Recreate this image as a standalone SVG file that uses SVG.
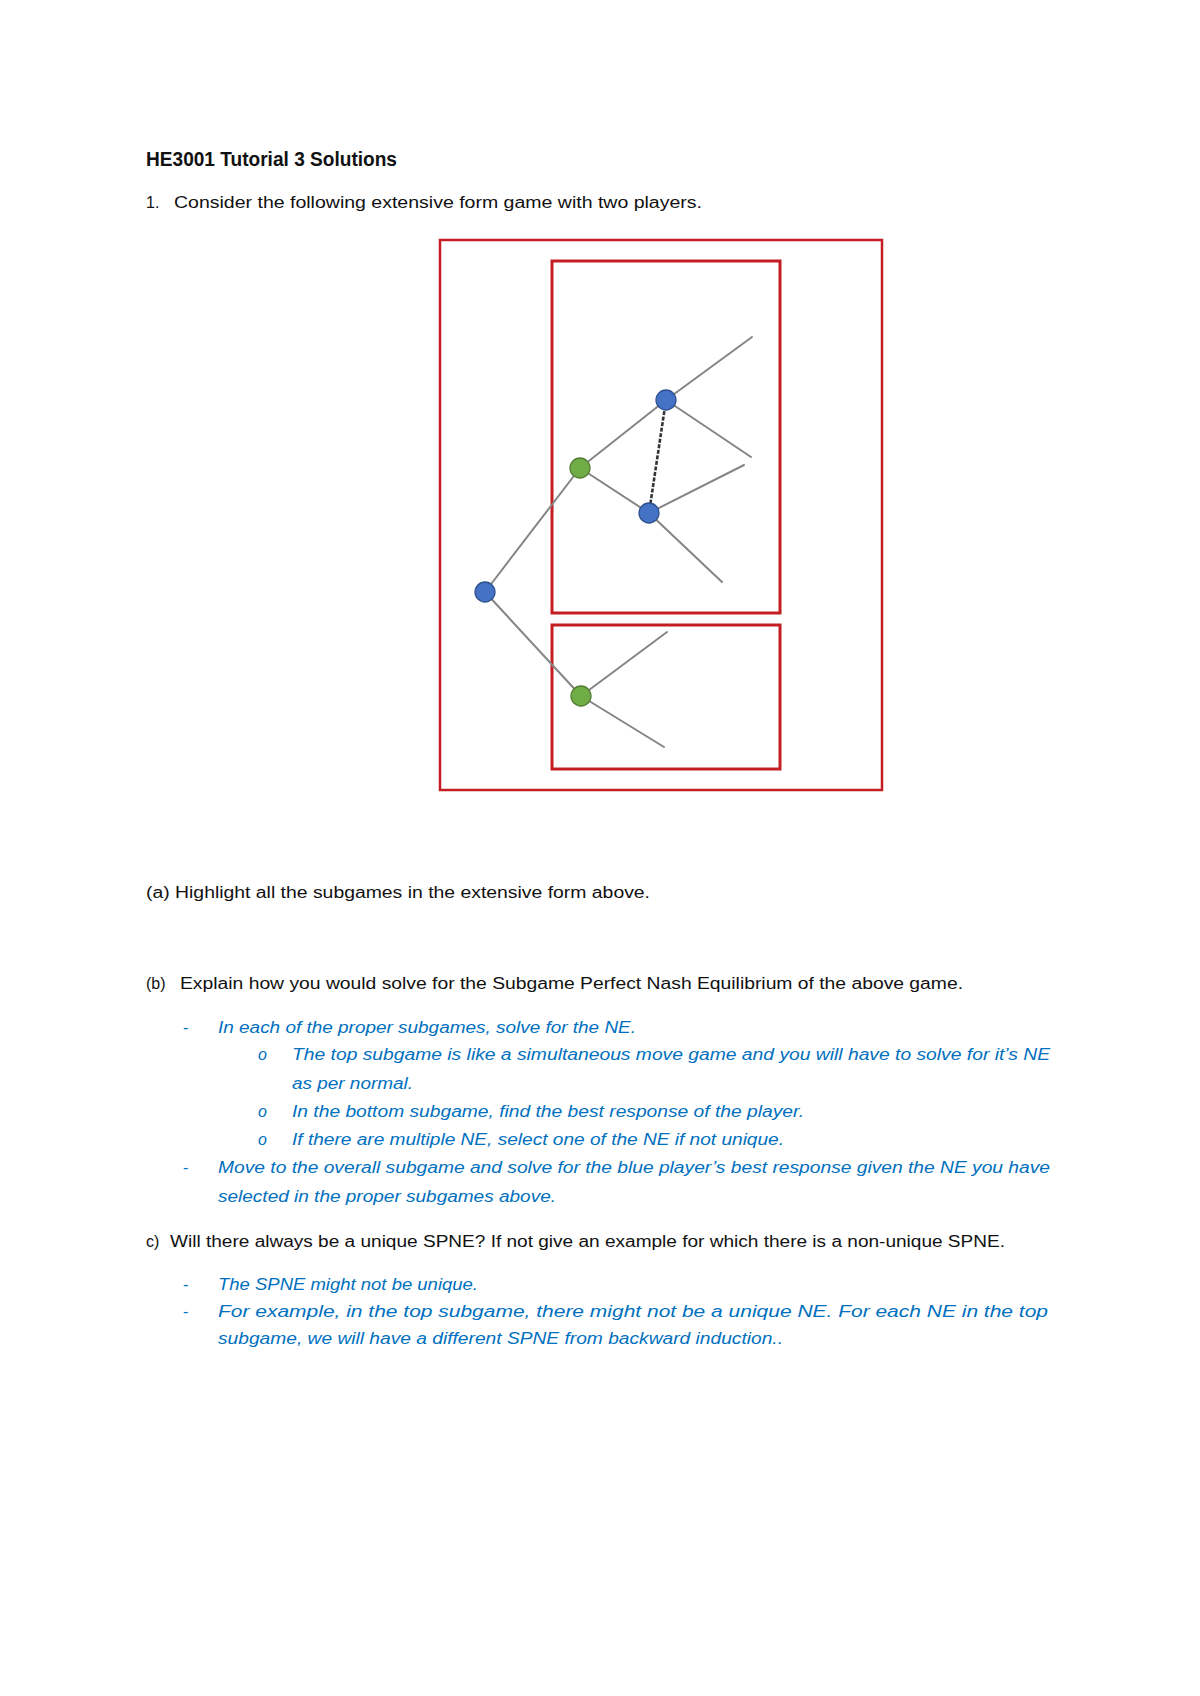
<svg xmlns="http://www.w3.org/2000/svg" width="1200" height="1696" viewBox="0 0 1200 1696">
<style>
.t{font-family:"Liberation Sans",Arial,sans-serif;font-size:16px;fill:#111;}
.ti{font-family:"Liberation Sans",Arial,sans-serif;font-size:19.5px;font-weight:bold;fill:#111;}
.b{font-family:"Liberation Sans",Arial,sans-serif;font-size:16px;font-style:italic;fill:#0070C0;}
.bul{font-family:"Liberation Sans",Arial,sans-serif;font-size:16px;fill:#0070C0;}
.box{fill:none;stroke:#C41E24;stroke-width:3;}
.obox{fill:none;stroke:#C41E24;stroke-width:2.5;}
.edge{stroke:#858585;stroke-width:2;stroke-linecap:round;fill:none;}
.info{stroke:#333;stroke-width:2.6;stroke-dasharray:4 1.6;fill:none;}
.pb{fill:#4472C4;stroke:#2F528F;stroke-width:1.3;}
.pg{fill:#70AD47;stroke:#507E32;stroke-width:1.3;}
</style>
<rect width="1200" height="1696" fill="#fff"/>

<text class="ti" x="146" y="166" textLength="251" lengthAdjust="spacingAndGlyphs">HE3001 Tutorial 3 Solutions</text>
<text class="t" x="146" y="208">1.</text>
<text class="t" x="174" y="208" textLength="528" lengthAdjust="spacingAndGlyphs">Consider the following extensive form game with two players.</text>

<g id="subgames">
<rect id="whole-game" class="obox" x="440" y="240" width="442" height="550"/>
<rect id="top-subgame" class="box" x="552" y="261" width="228" height="352"/>
<rect id="bottom-subgame" class="box" x="552" y="625" width="228" height="144"/>
</g>

<g id="connectors">
<line class="edge" x1="485" y1="592" x2="580" y2="468"/>
<line class="edge" x1="485" y1="592" x2="581" y2="696"/>
<line class="edge" x1="580" y1="468" x2="666" y2="400"/>
<line class="edge" x1="580" y1="468" x2="649" y2="513"/>
<line class="edge" x1="666" y1="400" x2="752" y2="337"/>
<line class="edge" x1="666" y1="400" x2="751" y2="457"/>
<line class="edge" x1="649" y1="513" x2="744" y2="465"/>
<line class="edge" x1="649" y1="513" x2="722" y2="582"/>
<line class="edge" x1="581" y1="696" x2="667" y2="632"/>
<line class="edge" x1="581" y1="696" x2="664" y2="747"/>
<line class="info" x1="666" y1="400" x2="649" y2="513"/>
</g>

<g id="node-root"><circle class="pb" cx="485" cy="592" r="10"/></g>
<g id="node-green-top"><circle class="pg" cx="580" cy="468" r="10"/></g>
<g id="node-green-bottom"><circle class="pg" cx="581" cy="696" r="10"/></g>
<g id="node-blue-upper"><circle class="pb" cx="666" cy="400" r="10"/></g>
<g id="node-blue-lower"><circle class="pb" cx="649" cy="513" r="10"/></g>

<text class="t" x="146" y="898" textLength="504" lengthAdjust="spacingAndGlyphs">(a) Highlight all the subgames in the extensive form above.</text>

<text class="t" x="146" y="989">(b)</text>
<text class="t" x="180" y="989" textLength="783" lengthAdjust="spacingAndGlyphs">Explain how you would solve for the Subgame Perfect Nash Equilibrium of the above game.</text>

<text class="bul" x="183" y="1033">-</text>
<text class="b" x="218" y="1033" textLength="418" lengthAdjust="spacingAndGlyphs">In each of the proper subgames, solve for the NE.</text>
<text class="b" x="258" y="1060">o</text>
<text class="b" x="292" y="1060" textLength="758" lengthAdjust="spacingAndGlyphs">The top subgame is like a simultaneous move game and you will have to solve for it’s NE</text>
<text class="b" x="292" y="1089" textLength="121" lengthAdjust="spacingAndGlyphs">as per normal.</text>
<text class="b" x="258" y="1117">o</text>
<text class="b" x="292" y="1117" textLength="512" lengthAdjust="spacingAndGlyphs">In the bottom subgame, find the best response of the player.</text>
<text class="b" x="258" y="1145">o</text>
<text class="b" x="292" y="1145" textLength="492" lengthAdjust="spacingAndGlyphs">If there are multiple NE, select one of the NE if not unique.</text>
<text class="bul" x="183" y="1173">-</text>
<text class="b" x="218" y="1173" textLength="832" lengthAdjust="spacingAndGlyphs">Move to the overall subgame and solve for the blue player’s best response given the NE you have</text>
<text class="b" x="218" y="1202" textLength="338" lengthAdjust="spacingAndGlyphs">selected in the proper subgames above.</text>

<text class="t" x="146" y="1247">c)</text>
<text class="t" x="170" y="1247" textLength="835" lengthAdjust="spacingAndGlyphs">Will there always be a unique SPNE? If not give an example for which there is a non-unique SPNE.</text>

<text class="bul" x="183" y="1290">-</text>
<text class="b" x="218" y="1290" textLength="260" lengthAdjust="spacingAndGlyphs">The SPNE might not be unique.</text>
<text class="bul" x="183" y="1317">-</text>
<text class="b" x="218" y="1317" textLength="830" lengthAdjust="spacingAndGlyphs">For example, in the top subgame, there might not be a unique NE. For each NE in the top</text>
<text class="b" x="218" y="1344" textLength="565" lengthAdjust="spacingAndGlyphs">subgame, we will have a different SPNE from backward induction..</text>
</svg>
